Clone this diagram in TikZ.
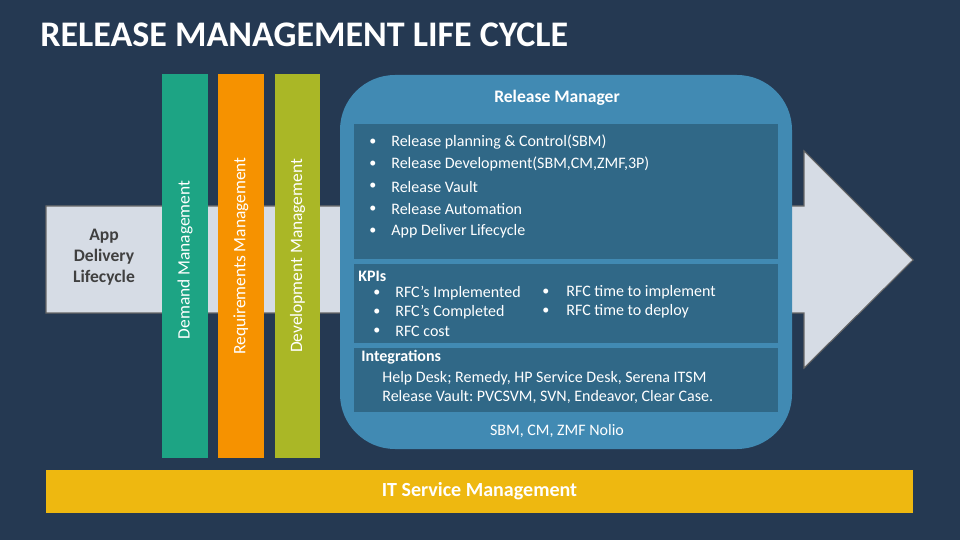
\documentclass[tikz,border=0pt]{standalone}
\usepackage{fontspec}
\setmainfont{Carlito}
\frenchspacing
\usetikzlibrary{positioning}
\definecolor{navy}{RGB}{37,57,82}
\definecolor{arrowgray}{RGB}{214,220,229}
\definecolor{mgrblue}{RGB}{65,138,179}
\definecolor{panelblue}{RGB}{48,104,135}
\definecolor{demandc}{RGB}{29,164,132}
\definecolor{reqc}{RGB}{246,146,0}
\definecolor{devc}{RGB}{170,183,38}
\definecolor{itsmc}{RGB}{238,184,16}
\tikzset{%
   bar/.style={rectangle, inner sep=0mm, outer sep=0mm, minimum width=0.92cm, minimum height=7.68cm},
   barlabel/.style={text=white, font=\fontsize{9.9}{12}\selectfont, rotate=90},
   panel/.style={fill=panelblue, draw=none},
   line/.style={text=white, font=\fontsize{9.1}{11}\selectfont, anchor=west, inner sep=0pt},
   head/.style={line, font=\fontsize{9.1}{11}\selectfont\bfseries},
   dotb/.style={line, text=white, font=\fontsize{8}{10}\selectfont},
}
\begin{document}
\begin{tikzpicture}[x=0.02cm, y=-0.02cm]
   \fill[navy] (0,0) rectangle (960,540);
   \useasboundingbox (0,0) rectangle (960,540);
   \node[anchor=west, text=white, font=\fontsize{20.5}{24}\selectfont\bfseries, inner sep=0pt] (title) at (40,35) {RELEASE MANAGEMENT LIFE CYCLE};
   % big arrow
   \fill[arrowgray, draw=gray!80!black, line width=0.6pt] (46,206) -- (804,206) -- (804,151) -- (913,260) -- (804,368) -- (804,313) -- (46,313) -- cycle;
   \node[align=center, text=black!75, font=\fontsize{10}{12}\selectfont\bfseries] (app) at (104,257) {App\\Delivery\\Lifecycle};
   % bars
   \node[bar, fill=demandc] (demand) at (185,266) {};
   \node[bar, fill=reqc] (req) at (241,266) {};
   \node[bar, fill=devc] (dev) at (297.5,266) {};
   \node[barlabel] at (185,260) {Demand Management};
   \node[barlabel] at (241,256) {Requirements Management};
   \node[barlabel] at (297.5,256) {Development Management};
   % release manager
   \fill[mgrblue, rounded corners=1.1cm] (340,75) rectangle (792,449);
   \node[text=white, font=\fontsize{10}{12}\selectfont\bfseries] (mgr) at (557,98) {Release Manager};
   \fill[panel] (354,124) rectangle (778,259);
   \fill[panel] (354,264) rectangle (778,343);
   \fill[panel] (354,348) rectangle (778,412);
   \foreach \t [count=\i] in {Release planning \& Control(SBM), {Release Development(SBM,CM,ZMF,3P)}, Release Vault, Release Automation, App Deliver Lifecycle} {
      \node[dotb] (b\i) at (369,120+22.2*\i) {•};
      \node[line] (r\i) at (391,120+22.2*\i) {\t};
   }
   \node[head] (kpi) at (358,276) {KPIs};
   \node[dotb] (kb1) at (373,293) {•};
   \node[line] (k1) at (395,293) {RFC’s Implemented};
   \node[dotb] (kb2) at (373,312) {•};
   \node[line] (k2) at (395,312) {RFC’s Completed};
   \node[dotb] (kb3) at (373,331) {•};
   \node[line] (k3) at (395,331) {RFC cost};
   \node[dotb] (kb4) at (542,292) {•};
   \node[line] (k4) at (566,292) {RFC time to implement};
   \node[dotb] (kb5) at (542,311) {•};
   \node[line] (k5) at (566,311) {RFC time to deploy};
   \node[head] (integ) at (361,357) {Integrations};
   \node[line] (i1) at (382,378) {Help Desk; Remedy, HP Service Desk, Serena ITSM};
   \node[line] (i2) at (382,397) {Release Vault: PVCSVM, SVN, Endeavor, Clear Case.};
   \node[text=white, font=\fontsize{9.1}{11}\selectfont] (tools) at (557,431) {SBM, CM, ZMF Nolio};
   % bottom bar
   \fill[itsmc] (46,470) rectangle (913,513);
   \node[text=white, font=\fontsize{11.4}{13}\selectfont\bfseries] (itsm) at (479.5,491) {IT Service Management};
\end{tikzpicture}
\end{document}
